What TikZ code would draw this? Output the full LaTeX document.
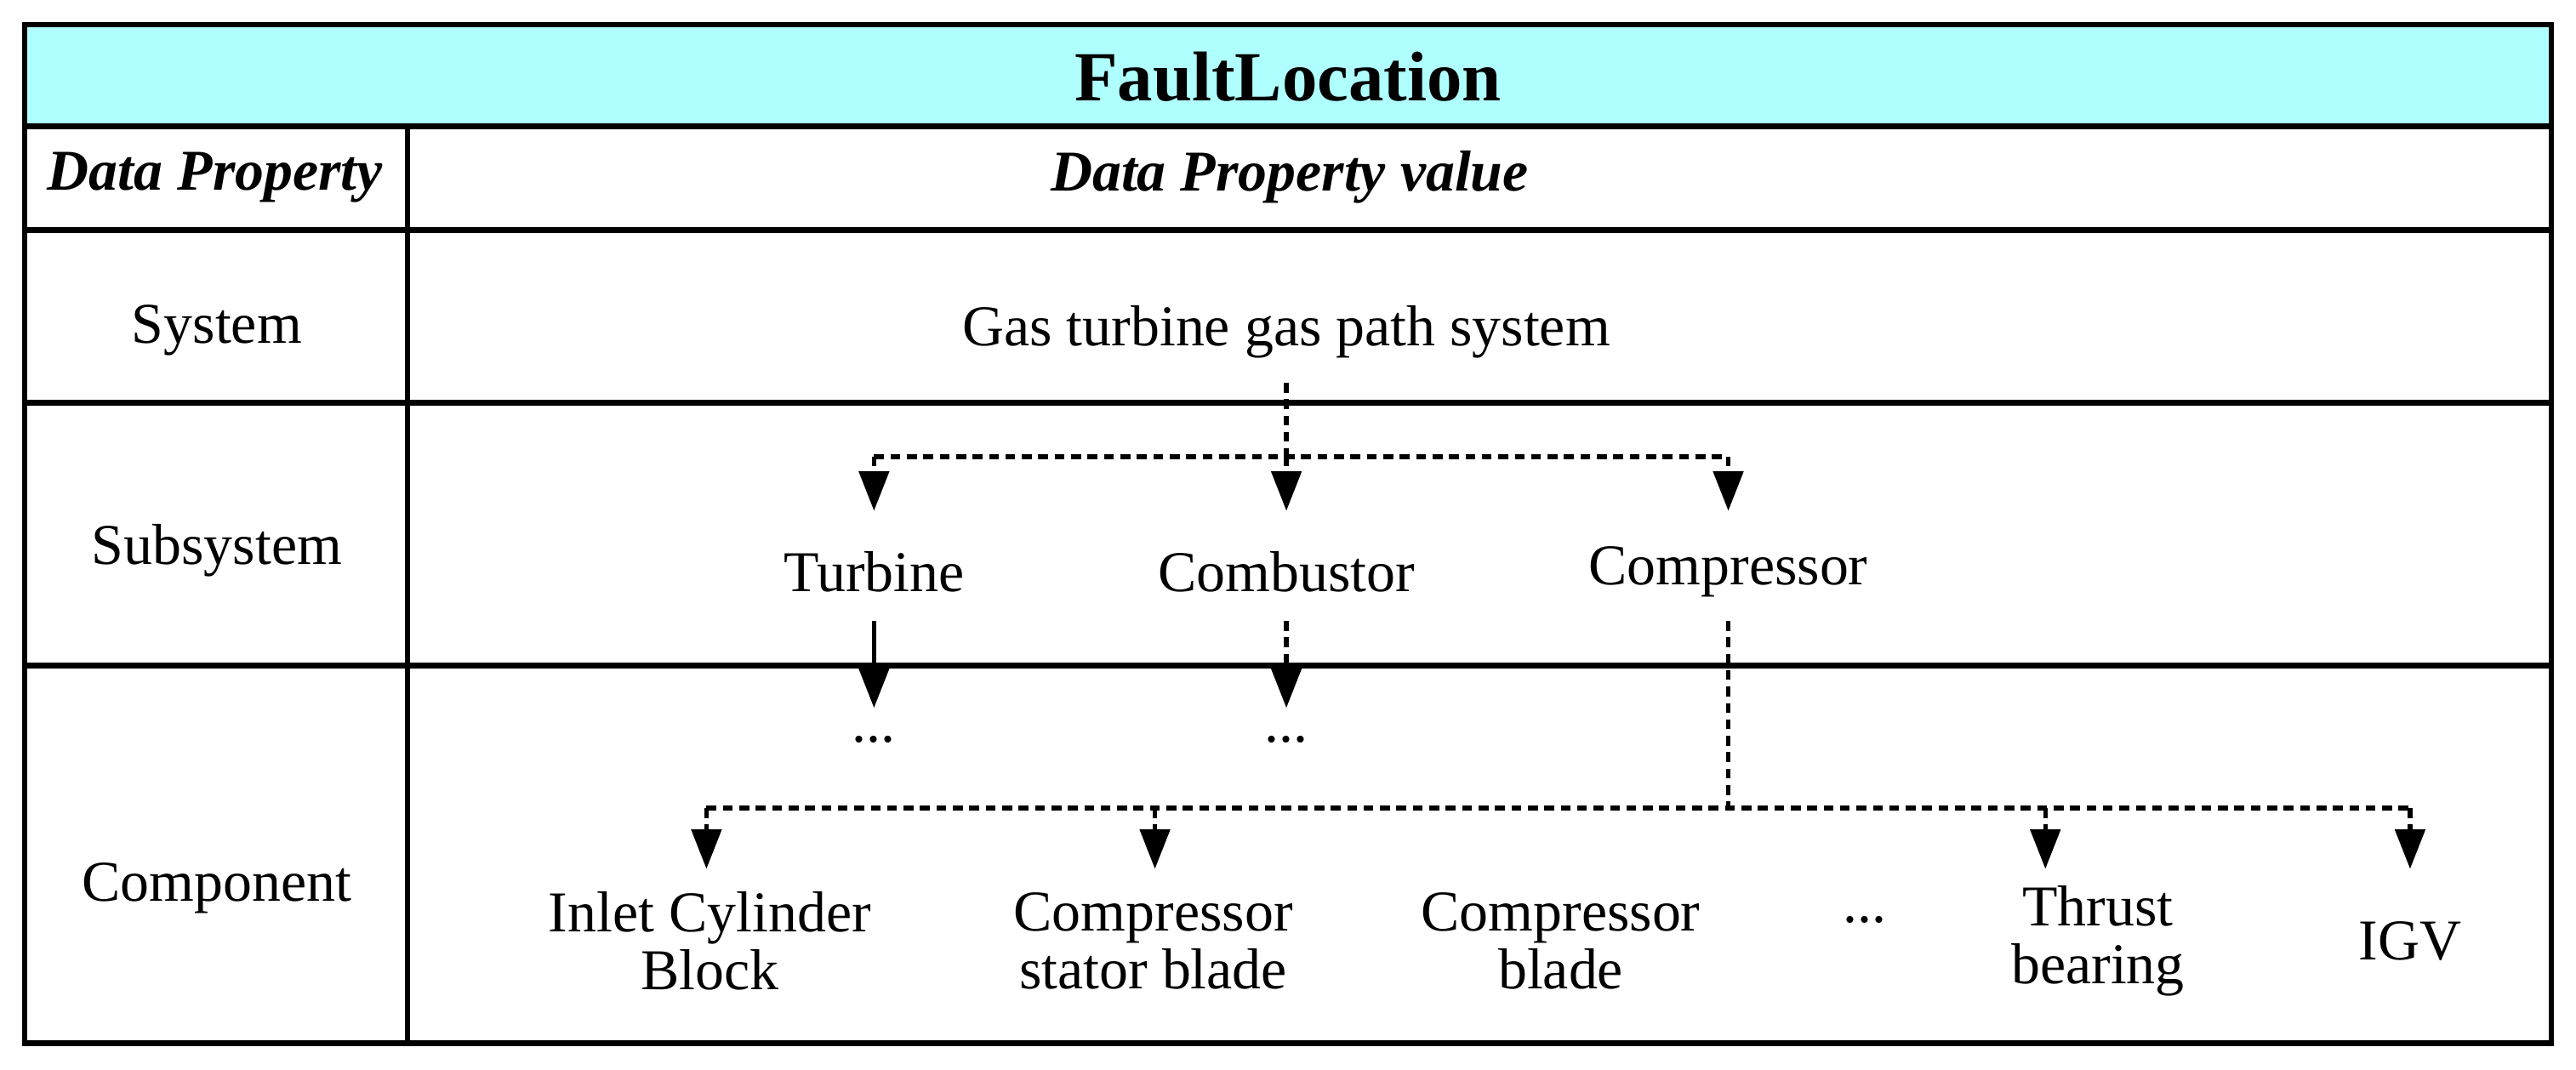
\documentclass[tikz,border=0pt]{standalone}
\usepackage{fontspec}
\setmainfont{Liberation Serif}
\usetikzlibrary{arrows.meta}
\definecolor{titlebg}{HTML}{AFFFFF}
\begin{document}
\begin{tikzpicture}[x=0.5mm,y=-0.5mm,
  txt/.style={font=\fontsize{50}{50}\selectfont, inner sep=0pt, align=center},
  hd/.style={txt, font=\fontsize{50}{50}\selectfont\bfseries\itshape},
  grid/.style={line width=5pt},
  conn/.style={line width=4pt, dash pattern=on 3mm off 2mm},
  arr/.style={-{Triangle[width=9mm,length=12mm]}},
  solidconn/.style={line width=4pt}]
\useasboundingbox (0,0) rectangle (1568,651);
\fill[titlebg] (15,15) rectangle (1553,77);
\draw[grid] (15,15) rectangle (1553,635);
\foreach \y in {77,140,245,405} \draw[grid] (15,\y) -- (1553,\y);
\draw[grid] (248,77) -- (248,635);
\node[txt, font=\fontsize{61}{61}\selectfont\bfseries] (title) at (784,47) {FaultLocation};
\node[hd] (dp) at (131,108) {Data Property};
\node[hd] (dpv) at (785,108) {Data Property value};
\node[txt] (lsys) at (132,201) {System};
\node[txt] (lsub) at (132,335) {Subsystem};
\node[txt] (lcomp) at (132,541) {Component};
\node[txt] (sys) at (783,202) {Gas turbine gas path system};
\node[txt] (turb) at (532,348) {Turbine};
\node[txt] (comb) at (783,348) {Combustor};
\node[txt] (compr) at (1052,348) {Compressor};
\node[txt] (d1) at (532,450) {...};
\node[txt] (d2) at (783,450) {...};
\node[txt] (c1) at (432,573) {Inlet Cylinder\\Block};
\node[txt] (c2) at (702,573) {Compressor\\stator blade};
\node[txt] (c3) at (950,573) {Compressor\\blade};
\node[txt] (c4) at (1135,560) {...};
\node[txt] (c5) at (1277,573) {Thrust\\bearing};
\node[txt] (c6) at (1467,573) {IGV};
\coordinate (j1) at (783,278);
\coordinate (j1l) at (532,278);
\coordinate (j1r) at (1052,278);
\coordinate (j2) at (1052,492);
\coordinate (j2a) at (430,492);
\coordinate (j2b) at (703,492);
\coordinate (j2c) at (1245,492);
\coordinate (j2d) at (1467,492);
\draw[conn] (783,233) -- (j1);
\draw[conn] (j1l) -- (j1r);
\draw[conn,arr] (j1l) -- (532,311);
\draw[conn,arr] (j1) -- (783,311);
\draw[conn,arr] (j1r) -- (1052,311);
\draw[solidconn,arr] (532,378) -- (532,431);
\draw[conn,arr] (783,378) -- (783,431);
\draw[conn] (1052,378) -- (j2);
\draw[conn] (j2a) -- (j2d);
\foreach \c in {j2a,j2b,j2c,j2d} \draw[conn,arr] (\c) -- ++(0,37);
\end{tikzpicture}
\end{document}
